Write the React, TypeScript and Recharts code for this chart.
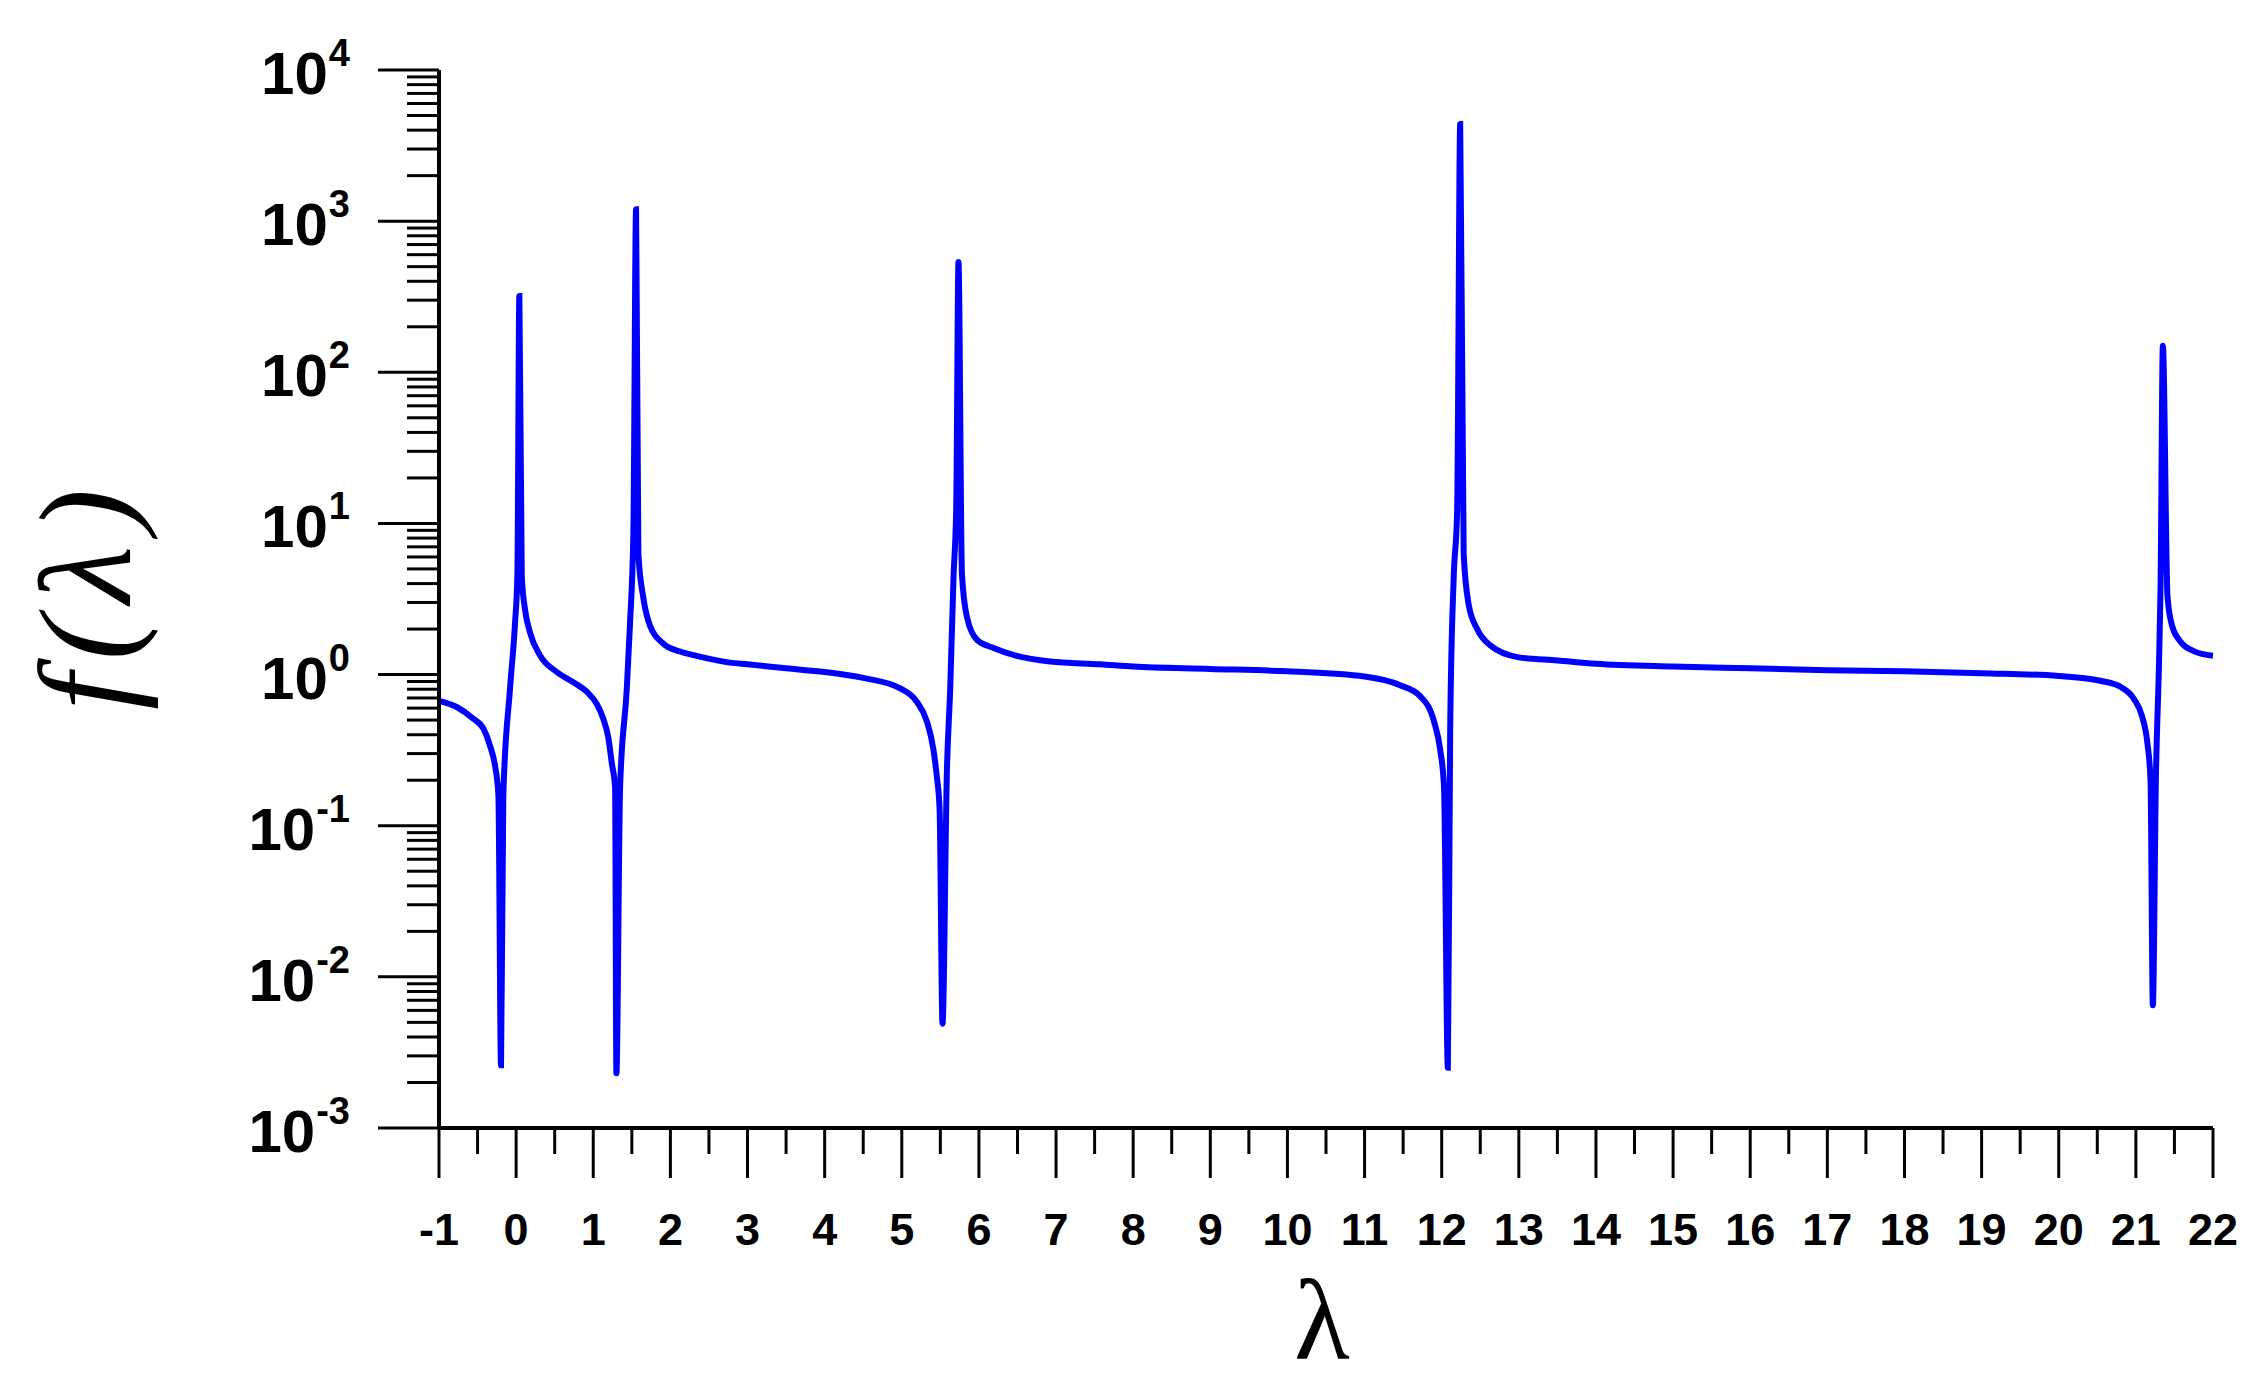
import { LineChart, Line, XAxis, YAxis } from 'recharts';

// lambda positions of the sampled curve
const lambdaValues = [
  -1, -0.77, -0.555, -0.425, -0.34, -0.274, -0.23, -0.196, -0.166, -0.079,
  -0.014, 0.016, 0.042, 0.073, 0.115, 0.18, 0.31, 0.527, 0.742, 0.916,
  1.045, 1.13, 1.196, 1.24, 1.283, 1.3, 1.348, 1.435, 1.477, 1.52,
  1.555, 1.585, 1.65, 1.737, 1.91, 2.126, 2.34, 2.77, 3, 3.5,
  4, 4.5, 4.98, 5.196, 5.325, 5.41, 5.455, 5.49, 5.528, 5.585,
  5.628, 5.67, 5.706, 5.735, 5.78, 5.845, 5.974, 6.19, 6.49, 6.925,
  7.57, 8, 9, 10, 11, 11.46, 11.72, 11.9, 11.98, 12.03,
  12.08, 12.11, 12.155, 12.2, 12.24, 12.285, 12.35, 12.46, 12.63, 13,
  13.5, 14, 15, 16, 17, 18, 19, 20, 20.54, 20.8,
  20.975, 21.08, 21.15, 21.19, 21.22, 21.26, 21.3, 21.32, 21.35, 21.41,
  21.47, 21.58, 21.75, 22,
];

// f(lambda)
const fValues = [
  0.67, 0.61, 0.51, 0.44, 0.34, 0.25, 0.16, 0.0026, 0.16, 0.81,
  2.2, 4.5, 320, 4.5, 2.7, 1.9, 1.34, 1.04, 0.89, 0.77,
  0.64, 0.51, 0.38, 0.26, 0.18, 0.0023, 0.18, 0.81, 2.2, 8.7,
  1200, 6.3, 3.2, 2.1, 1.6, 1.42, 1.33, 1.2, 1.17, 1.1,
  1.04, 0.95, 0.81, 0.66, 0.49, 0.32, 0.21, 0.13, 0.0049, 0.23,
  0.81, 4.3, 13, 537, 4.6, 2.4, 1.7, 1.5, 1.33, 1.22,
  1.17, 1.13, 1.09, 1.05, 0.97, 0.85, 0.72, 0.49, 0.32, 0.18,
  0.0025, 0.43, 4.3, 12, 4400, 6.3, 2.9, 2.0, 1.56, 1.3,
  1.24, 1.18, 1.13, 1.1, 1.07, 1.05, 1.02, 0.98, 0.91, 0.83,
  0.69, 0.53, 0.35, 0.2, 0.0065, 0.21, 1.2, 3.8, 150, 3.3,
  2.1, 1.65, 1.43, 1.33,
];

const xMajorTicks = [-1, 0, 1, 2, 3, 4, 5, 6, 7, 8, 9, 10, 11, 12, 13, 14, 15, 16, 17, 18, 19, 20, 21, 22];
const xMinorTicks = [-0.5, 0.5, 1.5, 2.5, 3.5, 4.5, 5.5, 6.5, 7.5, 8.5, 9.5, 10.5, 11.5, 12.5, 13.5, 14.5, 15.5, 16.5, 17.5, 18.5, 19.5, 20.5, 21.5];
const yDecades = [-3, -2, -1, 0, 1, 2, 3, 4];
const yMinorSteps = [2, 3, 4, 5, 6, 7, 8, 9];

const data = lambdaValues.map((lambda, i) => ({ lambda, f: fValues[i] }));
const xTicks = [...xMajorTicks, ...xMinorTicks].sort((a, b) => a - b);
const yTicks: number[] = [];
yDecades.forEach((e) => {
  yTicks.push(Math.pow(10, e));
  if (e < 4) yMinorSteps.forEach((k) => yTicks.push(k * Math.pow(10, e)));
});

const sans = "'Liberation Sans', Arial, sans-serif";
const serif = "'Liberation Serif', 'Times New Roman', serif";

const YTick = ({ x, y, payload }: any) => {
  const e = Math.log10(payload.value);
  const major = Math.abs(e - Math.round(e)) < 1e-6;
  return (
    <g>
      <line x1={x - (major ? 61 : 32)} x2={x} y1={y} y2={y} stroke="#000" strokeWidth={3} />
      {major && (
        <text x={x - 89} y={y} textAnchor="end" fontFamily={sans} fontWeight="bold" fill="#000">
          <tspan fontSize={60} dy={24}>10</tspan>
          <tspan fontSize={38} dx={1} dy={-28}>{Math.round(e)}</tspan>
        </text>
      )}
    </g>
  );
};

const XTick = ({ x, y, payload }: any) => {
  const major = Number.isInteger(payload.value);
  return (
    <g>
      <line x1={x} x2={x} y1={y} y2={y + (major ? 50 : 26)} stroke="#000" strokeWidth={3} />
      {major && (
        <text x={x} y={y + 117} textAnchor="middle" fontSize={45} fontWeight="bold" fontFamily={sans} fill="#000">
          {payload.value}
        </text>
      )}
    </g>
  );
};

const YLabel = ({ viewBox }: any) => {
  const cx = viewBox.x + 102;
  const cy = viewBox.y + viewBox.height / 2 - 6;
  return (
    <text x={cx} y={cy} transform={`rotate(-90 ${cx} ${cy})`} textAnchor="middle"
      fontFamily={serif} fontStyle="italic" fontSize={132} letterSpacing={13} fill="#000">
      f(λ)
    </text>
  );
};

const XLabel = ({ viewBox }: any) => (
  <text x={viewBox.x + viewBox.width / 2 - 4} y={viewBox.y + 230} textAnchor="middle"
    fontFamily={serif} fontSize={115} fill="#000">
    λ
  </text>
);

const App = () => {
  return (
    <LineChart width={2250} height={1375} data={data} margin={{ top: 62, right: 45, bottom: 10, left: 20 }}>
      <XAxis dataKey="lambda" type="number" domain={[-1, 22]} ticks={xTicks} interval={0}
        height={245} tick={<XTick />} tickLine={false} tickSize={0} tickMargin={0}
        axisLine={{ stroke: '#000', strokeWidth: 4 }} label={{ content: <XLabel /> }} />
      <YAxis type="number" scale="log" domain={[0.001, 10000]} ticks={yTicks} interval={0}
        width={411} tick={<YTick />} tickLine={false} tickSize={0} tickMargin={0}
        axisLine={{ stroke: '#000', strokeWidth: 4 }} label={{ content: <YLabel /> }} />
      <Line type="monotone" dataKey="f" stroke="#0000FF" strokeWidth={6} dot={false} isAnimationActive={false} />
    </LineChart>
  );
};

export default App;
